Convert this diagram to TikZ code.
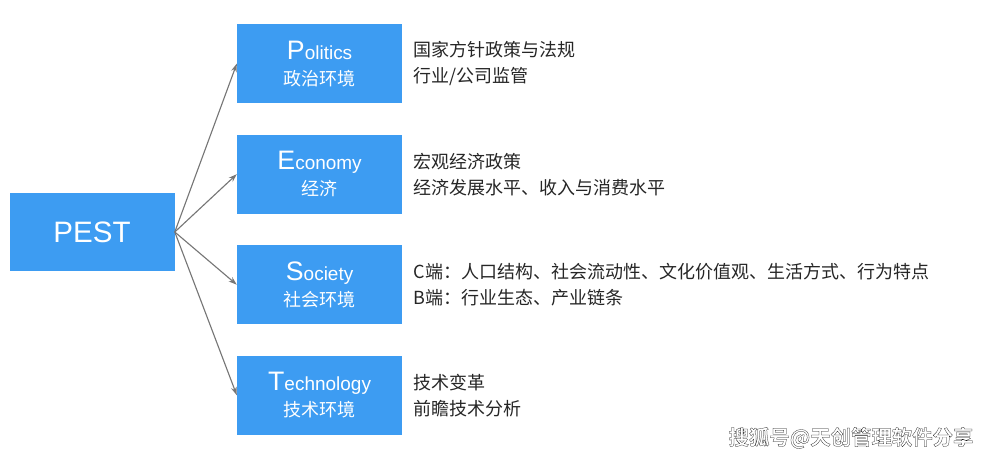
\documentclass[tikz,border=0pt]{standalone}
\usepackage{fontspec}
\setmainfont{Liberation Sans}
\newfontfamily\cjk{Noto Sans CJK SC}
\newfontfamily\markfont[FakeBold=1.2]{Noto Sans CJK SC Bold}
\usetikzlibrary{positioning,arrows.meta}
\usepackage{xcolor}
\definecolor{pestblue}{HTML}{3D9CF2}
\definecolor{linkgray}{HTML}{767676}
\newcommand{\headword}[2]{{\rmfamily\fontsize{19}{18}\selectfont #1}{\rmfamily\fontsize{13.5}{18}\selectfont #2}}

\begin{document}
\begin{tikzpicture}[every node/.style={font=\cjk\fontsize{12.8}{18.5}\selectfont},
    factor/.style={fill=pestblue, text=white, minimum width=4.125cm, minimum height=1.98cm, align=center, inner sep=0pt},
    detail/.style={right=0.275cm of #1, align=left, inner sep=0pt, text=black!85},
    link/.style={-{Stealth[length=6pt,width=4pt]}, draw=linkgray, line width=0.8pt}]
    \useasboundingbox (0,0) rectangle (24.675,-11.525);

    \node[factor, minimum height=1.95cm, font=\rmfamily\fontsize{21}{21}\selectfont] (pest) at (2.3,-5.8) {PEST};

    \node[factor] (politics) at (7.99,-1.59) {\headword{P}{olitics}\\政治环境};
    \node[factor, below=0.77cm of politics] (economy) {\headword{E}{conomy}\\经济};
    \node[factor, below=0.77cm of economy] (society) {\headword{S}{ociety}\\社会环境};
    \node[factor, below=0.77cm of society] (technology) {\headword{T}{echnology}\\技术环境};

    \node[detail=politics] (politicsnote) {国家方针政策与法规\\行业/公司监管};
    \node[detail=economy] (economynote) {宏观经济政策\\经济发展水平、收入与消费水平};
    \node[detail=society] (societynote) {C端：人口结构、社会流动性、文化价值观、生活方式、行为特点\\B端：行业生态、产业链条};
    \node[detail=technology] (technologynote) {技术变革\\前瞻技术分析};

    \foreach \f in {politics,economy,society,technology}
        \draw[link] (pest.east) -- (\f.west);

    % watermark: white letters, dark edge
    \node[font=\markfont\fontsize{14.5}{14.5}\selectfont] (mark) at (21.275,-10.95)
        {\color{white}\special{pdf:literal 0.1 G}搜狐号@天创管理软件分享};
\end{tikzpicture}
\end{document}
